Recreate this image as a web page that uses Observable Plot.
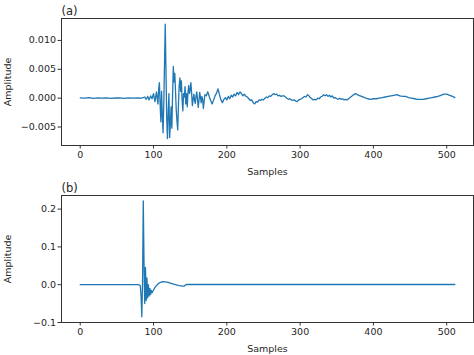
<!DOCTYPE html>
<html>
<head>
<meta charset="utf-8">
<script src="https://cdn.jsdelivr.net/npm/d3@7"></script>
<script src="https://cdn.jsdelivr.net/npm/@observablehq/plot@0.6"></script>
<style>
  html, body { margin: 0; padding: 0; background: white; }
  #fig { width: 474px; height: 355px; }
  #fig svg { display: block; }
</style>
</head>
<body>
<div id="fig"></div>
<script>
// Panel (a): sample index and amplitude
const xA = [0,6,12,18,24,30,36,42,48,54,60,66,72,78,84,88,90,92,94,96,98,100,102,104,106,107,108,109,110,111,112,113,114,115,116,117,118,119,120,121,122,123,124,125,126,127,128,129,130,131,132,133,134,135,136,137,138,139,140,141,142,143,144,145,146,147,148,149,150,151,152,153,154,155,156,157,158,159,160,161,162,163,164,165,166,167,168,169,170,172,174,176,178,180,182,184,186,188,190,192,194,196,198,200,202,204,206,208,210,212,214,216,218,220,222,224,226,228,230,232,234,236,238,240,242,244,246,248,250,252,254,256,258,260,262,264,266,268,270,272,274,276,278,280,282,284,286,288,290,292,294,296,298,300,302,304,306,308,310,312,314,316,318,320,322,324,326,328,330,332,334,336,338,340,342,344,346,348,350,352,354,356,358,360,362,364,366,368,370,372,374,376,378,380,384,388,392,396,400,404,408,412,416,420,424,428,432,436,440,444,448,452,456,460,464,468,472,476,480,484,488,492,496,500,504,508,511];
const yA = [0.00005,0.0,0.00008,-0.00003,0.00005,0.0,0.00006,-0.00004,0.00003,0.00005,-0.00003,0.00004,0.0,0.00006,0.0,0.0002,-0.0002,0.0003,-0.0003,0.0004,-0.0001,0.0008,-0.0006,0.0011,-0.0010,0.0015,0.0027,-0.0010,-0.0041,0.0012,-0.0030,-0.0060,-0.0010,0.0060,0.0128,0.0045,-0.0035,-0.0070,-0.0025,0.0008,-0.0068,-0.0045,-0.0015,-0.0052,0.0005,0.0055,0.0028,0.0043,0.0012,-0.0020,-0.0040,-0.0055,-0.0012,0.0022,0.0035,0.0012,0.0030,-0.0003,-0.0022,0.0008,0.0002,0.0020,-0.0010,0.0008,-0.0015,0.0010,0.0022,0.0008,0.0014,0.0027,0.0008,-0.0013,-0.0002,0.0007,-0.0004,-0.0009,0.0004,0.0011,-0.0002,-0.0016,-0.0004,0.0010,0.0002,-0.0008,0.0003,-0.0002,-0.0018,-0.0006,0.0006,0.0004,0.0011,0.0003,-0.0004,-0.0010,-0.0003,0.0004,0.0009,0.0016,0.0006,-0.0003,-0.0008,-0.0002,0.0001,-0.0003,0.0003,-0.0001,0.0005,0.0002,0.0007,0.0004,0.0010,0.0006,0.0011,0.0008,0.0004,0.0007,0.0003,0.0002,-0.0001,-0.0004,-0.0003,-0.0008,-0.0010,-0.0006,-0.0007,-0.0003,-0.0004,-0.0002,-0.0003,0.0,0.0002,0.0001,0.0004,0.0003,0.0006,0.0008,0.0006,0.0007,0.0004,0.0005,0.0003,0.0004,0.0004,0.0002,0.0,-0.0002,-0.0001,-0.0003,-0.0004,-0.0003,-0.0005,-0.0006,-0.0003,-0.0002,-0.0001,0.0001,0.0003,0.0002,0.0006,0.0004,0.0001,-0.0001,-0.0003,-0.0002,-0.0003,0.0,-0.0001,0.0002,0.0003,0.0006,0.0004,0.0006,0.0003,0.0005,0.0002,0.0004,0.0,0.0001,-0.0001,-0.0002,0.0,-0.0002,-0.0001,-0.0003,-0.0002,-0.0003,-0.0001,0.0001,0.0003,0.0005,0.0007,0.0008,0.0006,0.0005,0.0003,0.0001,-0.0001,-0.0002,-0.0001,-0.0001,0.0,0.0001,0.0002,0.0003,0.0004,0.0005,0.0006,0.0004,0.0003,0.0003,0.0001,0.0,-0.0001,-0.0002,-0.0002,-0.0002,-0.0001,0.0,0.0001,0.0002,0.0003,0.0005,0.0007,0.0007,0.0005,0.0003,0.0001];

// Panel (b): sample index and amplitude
const xB = [0,80,82,83,84,85,86,87,88,89,90,91,92,93,94,95,96,97,98,100,102,105,108,112,116,120,125,130,135,140,142,144,146,511];
const yB = [0.0,0.0,-0.003,-0.03,-0.085,0.0,0.222,0.06,-0.05,0.046,-0.042,0.018,-0.035,0.0,-0.03,-0.01,-0.026,-0.015,-0.021,-0.014,-0.007,0.0,0.005,0.008,0.0075,0.006,0.003,0.0,-0.0025,-0.004,-0.0035,0.0,0.0005,0.0005];

const xTicks = [0, 100, 200, 300, 400, 500];
const yTicksA = [-0.005, 0.0, 0.005, 0.010];
const yTicksB = [-0.1, 0.0, 0.1, 0.2];
const panelTags = ["(a)", "(b)"];
const xLabel = "Samples";
const yLabel = "Amplitude";

function panel(xs, ys, yDomain, yTicks, yFmt, tag, h, mb) {
  const data = xs.map((x, i) => ({x, y: ys[i]}));
  return Plot.plot({
    width: 474, height: h,
    marginTop: 18, marginBottom: mb, marginLeft: 61, marginRight: 1,
    style: {fontFamily: "DejaVu Sans", fontSize: "9.5px", color: "#262626", background: "white", overflow: "visible"},
    x: {domain: [-25.55, 536.55]},
    y: {domain: yDomain},
    marks: [
      Plot.axisX({ticks: xTicks, tickSize: 3.5, tickPadding: 2, tickFormat: d => String(d),
        label: xLabel, labelAnchor: "center", labelArrow: "none", labelOffset: 29, stroke: "#333"}),
      Plot.axisY({ticks: yTicks, tickSize: 3.5, tickPadding: 2, tickFormat: yFmt,
        label: yLabel, labelAnchor: "center", labelArrow: "none", labelOffset: 57, stroke: "#333"}),
      Plot.line(data, {x: "x", y: "y", stroke: "#1f77b4", strokeWidth: 1.3}),
      Plot.frame({stroke: "#333", strokeWidth: 1}),
      Plot.text([tag], {frameAnchor: "top-left", text: d => d, textAnchor: "start", lineAnchor: "bottom", dy: -4, fontSize: 11.5, fill: "#262626"})
    ]
  });
}

const fig = document.getElementById("fig");
fig.append(panel(xA, yA, [-0.0082, 0.0138], yTicksA, d3.format(".3f"), panelTags[0], 177, 32));
fig.append(panel(xB, yB, [-0.1, 0.236], yTicksB, d3.format(".1f"), panelTags[1], 178, 33));
</script>
</body>
</html>
